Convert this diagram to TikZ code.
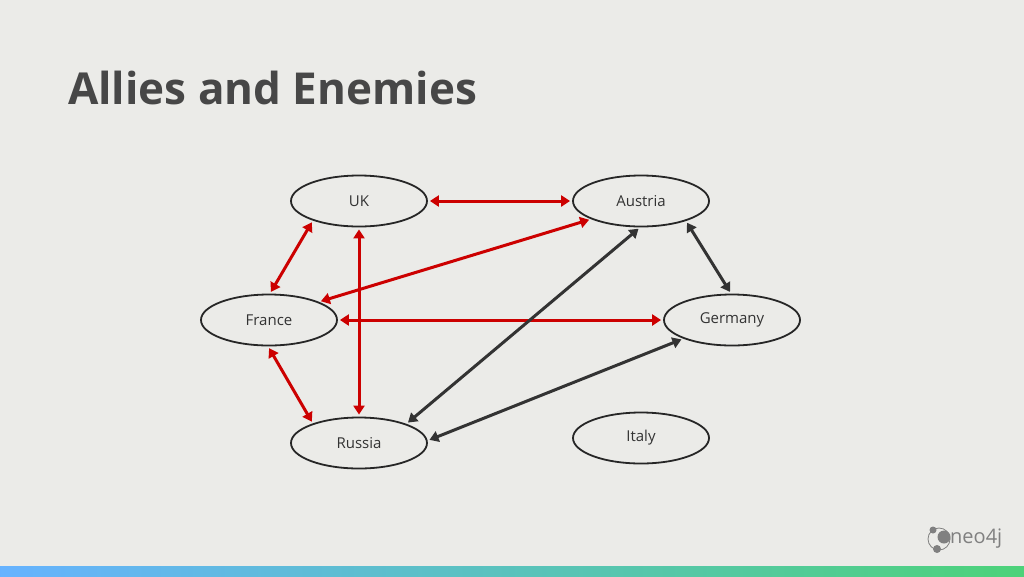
\documentclass[tikz,border=0pt]{standalone}
\usepackage{fontspec}
\setmainfont{Open Sans}
\usetikzlibrary{shapes.geometric,arrows.meta}
\definecolor{bg}{HTML}{EBEBE8}
\definecolor{redl}{HTML}{CC0000}
\definecolor{darkl}{HTML}{333333}
\begin{document}
\begin{tikzpicture}[x=1pt,y=-1pt,
  country/.style={ellipse,draw=black!85,line width=1.8pt,minimum width=136pt,minimum height=51pt,font=\fontsize{15}{15}\selectfont,text=black!80},
  rel/.style={line width=3pt,{Triangle[length=9pt,width=11pt]}-{Triangle[length=9pt,width=11pt]},shorten <=2pt,shorten >=2pt},
  enemy/.style={rel,draw=redl},
  ally/.style={rel,draw=darkl}]
\fill[bg] (0,0) rectangle (1024,576);
\useasboundingbox (0,0) rectangle (1024,576);
\shade[left color=cyan!50!blue!60,right color=green!50!teal!70] (0,566) rectangle (1024,576);
\node[anchor=base west,font=\bfseries\fontsize{44}{44}\selectfont,text=black!72,inner sep=0pt] (title) at (68,104) {Allies and Enemies};
\node[country] (uk) at (359,201) {UK};
\node[country] (au) at (641,201) {Austria};
\node[country] (fr) at (269,320) {France};
\node[country] (ge) at (732,320) {Germany};
\node[country] (ru) at (359,443) {Russia};
\node[country] (it) at (641,438) {Italy};
\draw[enemy] (uk) -- (au);
\draw[enemy] (uk.203) -- (fr.88);
\draw[enemy] (uk) -- (ru);
\draw[enemy] (fr.20) -- (au.200);
\draw[enemy] (fr) -- (ge);
\draw[enemy] (fr.268) -- (ru.157);
\draw[ally] (au.336) -- (ge.92);
\draw[ally] (au.268) -- (ru.22);
\draw[ally] (ge.201) -- (ru.2);
% logo
\draw[gray,line width=0.8pt] (939,539) circle (11);
\fill[gray] (944,537) circle (6.5);
\fill[gray] (933,530) circle (3.5);
\fill[gray] (937,549) circle (4);
\node[anchor=west,font=\fontsize{20}{20}\selectfont,text=gray,inner sep=0pt] (logo) at (950,539) {neo4j};
\end{tikzpicture}
\end{document}
